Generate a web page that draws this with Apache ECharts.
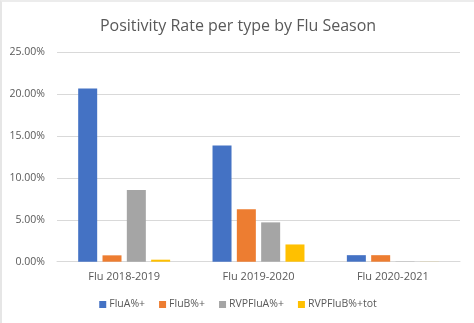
<!DOCTYPE html>
<html><head><meta charset="utf-8">
<script src="https://cdn.jsdelivr.net/npm/echarts@6/dist/echarts.min.js"></script>
<style>html,body{margin:0;padding:0;background:#fff}#c{position:absolute;left:0;top:0;width:474px;height:323px;box-sizing:border-box;border-left:2px solid #e6e6e6;border-top:2px solid #ececec;}</style>
</head><body><div id="c"></div>
<script>
var categories = ['Flu 2018-2019', 'Flu 2019-2020', 'Flu 2020-2021'];
var fluA = [20.71, 13.89, 0.78];
var fluB = [0.76, 6.27, 0.78];
var rvpFluA = [8.57, 4.70, 0.03];
var rvpFluBTot = [0.24, 2.06, 0.01];
var yTicks = [0, 5, 10, 15, 20, 25];

var chart = echarts.init(document.getElementById('c'));
var font = '"Open Sans", "Noto Sans", sans-serif';
function s(name, data, color) {
  return {name: name, type: 'bar', data: data, barWidth: 19, barGap: '28%', itemStyle: {color: color}};
}
chart.setOption({
  animation: false,
  textStyle: {fontFamily: font},
  title: {text: 'Positivity Rate per type by Flu Season', left: 'center', top: 11,
    textStyle: {fontSize: 16, fontWeight: 'normal', color: '#595959', fontFamily: font}},
  grid: {left: 55, right: 14, top: 50.5, bottom: 61.3},
  legend: {bottom: 8, left: 'center', itemWidth: 7, itemHeight: 7, itemGap: 14, icon: 'rect',
    textStyle: {fontSize: 10.5, color: '#595959', fontFamily: font, padding: [0,0,0,-2]},
    data: ['FluA%+', 'FluB%+', 'RVPFluA%+', 'RVPFluB%+tot']},
  xAxis: {type: 'category', data: categories,
    axisLine: {lineStyle: {color: '#d9d9d9'}}, axisTick: {show: false},
    axisLabel: {color: '#595959', fontSize: 11, margin: 10, fontFamily: font}},
  yAxis: {type: 'value', min: 0, max: 25, interval: 5,
    axisLine: {show: false}, axisTick: {show: false},
    splitLine: {lineStyle: {color: '#d9d9d9'}},
    axisLabel: {color: '#595959', fontSize: 10.5, margin: 12, fontFamily: font,
      formatter: function(v){ return yTicks.indexOf(v) >= 0 ? v.toFixed(2) + '%' : ''; }}},
  series: [
    s('FluA%+', fluA, '#4472c4'),
    s('FluB%+', fluB, '#ed7d31'),
    s('RVPFluA%+', rvpFluA, '#a5a5a5'),
    s('RVPFluB%+tot', rvpFluBTot, '#ffc000')
  ]
});
</script></body></html>
